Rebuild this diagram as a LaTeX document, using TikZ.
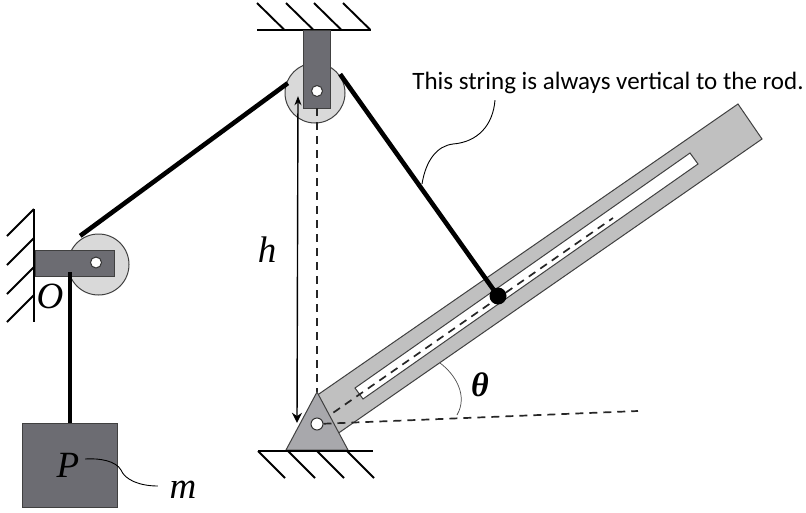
\documentclass[tikz,border=0pt]{standalone}
\usepackage{fontspec}
\usetikzlibrary{arrows.meta}
\newfontfamily\labelfont{Carlito}
\newfontfamily\symbfont{Liberation Serif}
\definecolor{darkgr}{RGB}{108,108,114}
\definecolor{pulleygr}{RGB}{217,217,217}
\definecolor{rodgr}{RGB}{192,192,192}
\definecolor{trigr}{RGB}{168,168,172}
\tikzset{
  hatch/.style={line width=1.9pt,black},
  stringline/.style={line width=4.6pt,black},
  outlined/.style={draw=black!75,line width=1pt},
  thinline/.style={line width=1pt,black},
  dashline/.style={line width=1.7pt,black!85,dash pattern=on 8pt off 6pt},
  mathlabel/.style={inner sep=0pt,font=\symbfont\itshape\fontsize{37}{40}\selectfont},
  hole/.style={circle,draw=black!80,fill=white,line width=1pt,inner sep=0pt},
  dotpoint/.style={circle,fill=black,inner sep=0pt,minimum size=17pt},
  anchorpt/.style={inner sep=0pt,minimum size=0pt}
}
\begin{document}
\begin{tikzpicture}[x=1pt,y=-1pt]
\useasboundingbox (0,0) rectangle (806,512);
% named points
\coordinate (topA) at (257,30);
\coordinate (topB) at (371,30);
\coordinate (wallA) at (34,209);
\coordinate (wallB) at (34,322);
\coordinate (gndA) at (258,451);
\coordinate (gndB) at (373,451);
% ceiling
\draw[hatch] (topA) -- (topB);
\foreach \x in {257,286,314,343} \draw[hatch] (\x,3) -- ++(27,26.5);
% wall
\draw[hatch] (wallA) -- (wallB);
\foreach \y in {209,238,267,295} \draw[hatch] (34,\y) -- ++(-27,27);
% ground
\foreach \x in {258,288,317,347} \draw[hatch] (\x,451) -- ++(27,27);
% pulleys
\node[circle,outlined,fill=pulleygr,minimum size=60pt,inner sep=0pt] (pulleyT) at (315,93) {};
\node[circle,outlined,fill=pulleygr,minimum size=61pt,inner sep=0pt] (pulleyO) at (98.5,264.5) {};
% brackets
\draw[outlined,fill=darkgr] (303,30) rectangle (330,108);
\draw[outlined,fill=darkgr] (35,250) rectangle (114,276.5);
\node[hole,minimum size=11pt] (holeT) at (317,91) {};
\node[hole,minimum size=11pt] (holeO) at (96,262.5) {};
% rod
\draw[outlined,fill=rodgr] (316,396) -- (738,104) -- (762,139) -- (335,435.5) -- cycle;
\draw[outlined,fill=white] (355,388) -- (690,153) -- (698,164) -- (363,399) -- cycle;
% dashed guide lines
\coordinate (pivotEnd) at (613,218);
\coordinate (horizEnd) at (638,411);
\node[hole,minimum size=11pt] (pivot) at (317,424) {};
\draw[dashline] (317,108) -- (317,392);
\draw[dashline] (pivot) -- (pivotEnd);
% triangle
\draw[outlined,fill=trigr] (317,392) -- (286,450) -- (348,450) -- cycle;
\node[hole,minimum size=12pt] (pivot2) at (317,424) {};
\draw[dashline] (pivot2) -- (horizEnd);
\draw[hatch] (gndA) -- (gndB);
% block
\draw[outlined,fill=darkgr] (22,423) rectangle (117,507);
\node[anchorpt] (blockTop) at (70,423) {};
\node[anchorpt] (bracketO) at (70,272) {};
\draw[stringline] (bracketO) -- (blockTop);
% strings
\node[anchorpt] (strL1) at (80,236) {};
\node[anchorpt] (strL2) at (288,83) {};
\node[dotpoint] (dot) at (498,296) {};
\node[anchorpt] (strR1) at (340,74) {};
\draw[stringline] (strL1) -- (strL2);
\draw[stringline] (strR1) -- (dot.center);
% h arrow
\node[anchorpt] (hTop) at (298,96) {};
\node[anchorpt] (hBot) at (297,423) {};
\draw[thinline,line width=1.4pt,{Stealth[length=9pt,width=7pt]}-{Stealth[length=10pt,width=10pt]}] (hTop) -- (hBot);
% angle arc
\draw[line width=0.7pt,black!70] (440,363) .. controls (456,375) and (468,396) .. (457,415);
% labels
\node[mathlabel] (lblh) at (267,250) {h};
\node[mathlabel] (lblO) at (50,296) {O};
\node[mathlabel] (lblP) at (68,465) {P};
\node[mathlabel] (lblm) at (183,490) {m};
\node[mathlabel,font=\symbfont\itshape\bfseries\fontsize{34}{38}\selectfont] (lbltheta) at (480,385) {θ};
\node[inner sep=0pt,font=\labelfont\fontsize{25}{28}\selectfont] (note) at (608,83) {This string is always vertical to the rod.};
% leaders
\node[anchorpt] (ldrA) at (495,100) {};
\node[anchorpt] (ldrB) at (422,184) {};
\draw[line width=0.9pt,black] (ldrA) .. controls (493,125) and (478,142) .. (453,144) .. controls (437,146) and (426,160) .. (ldrB);
\node[anchorpt] (ldrP) at (85,459) {};
\node[anchorpt] (ldrM) at (158,486) {};
\draw[line width=0.9pt,black] (ldrP) .. controls (100,458) and (116,461) .. (121,470) .. controls (125,480) and (140,486) .. (ldrM);
\end{tikzpicture}
\end{document}
